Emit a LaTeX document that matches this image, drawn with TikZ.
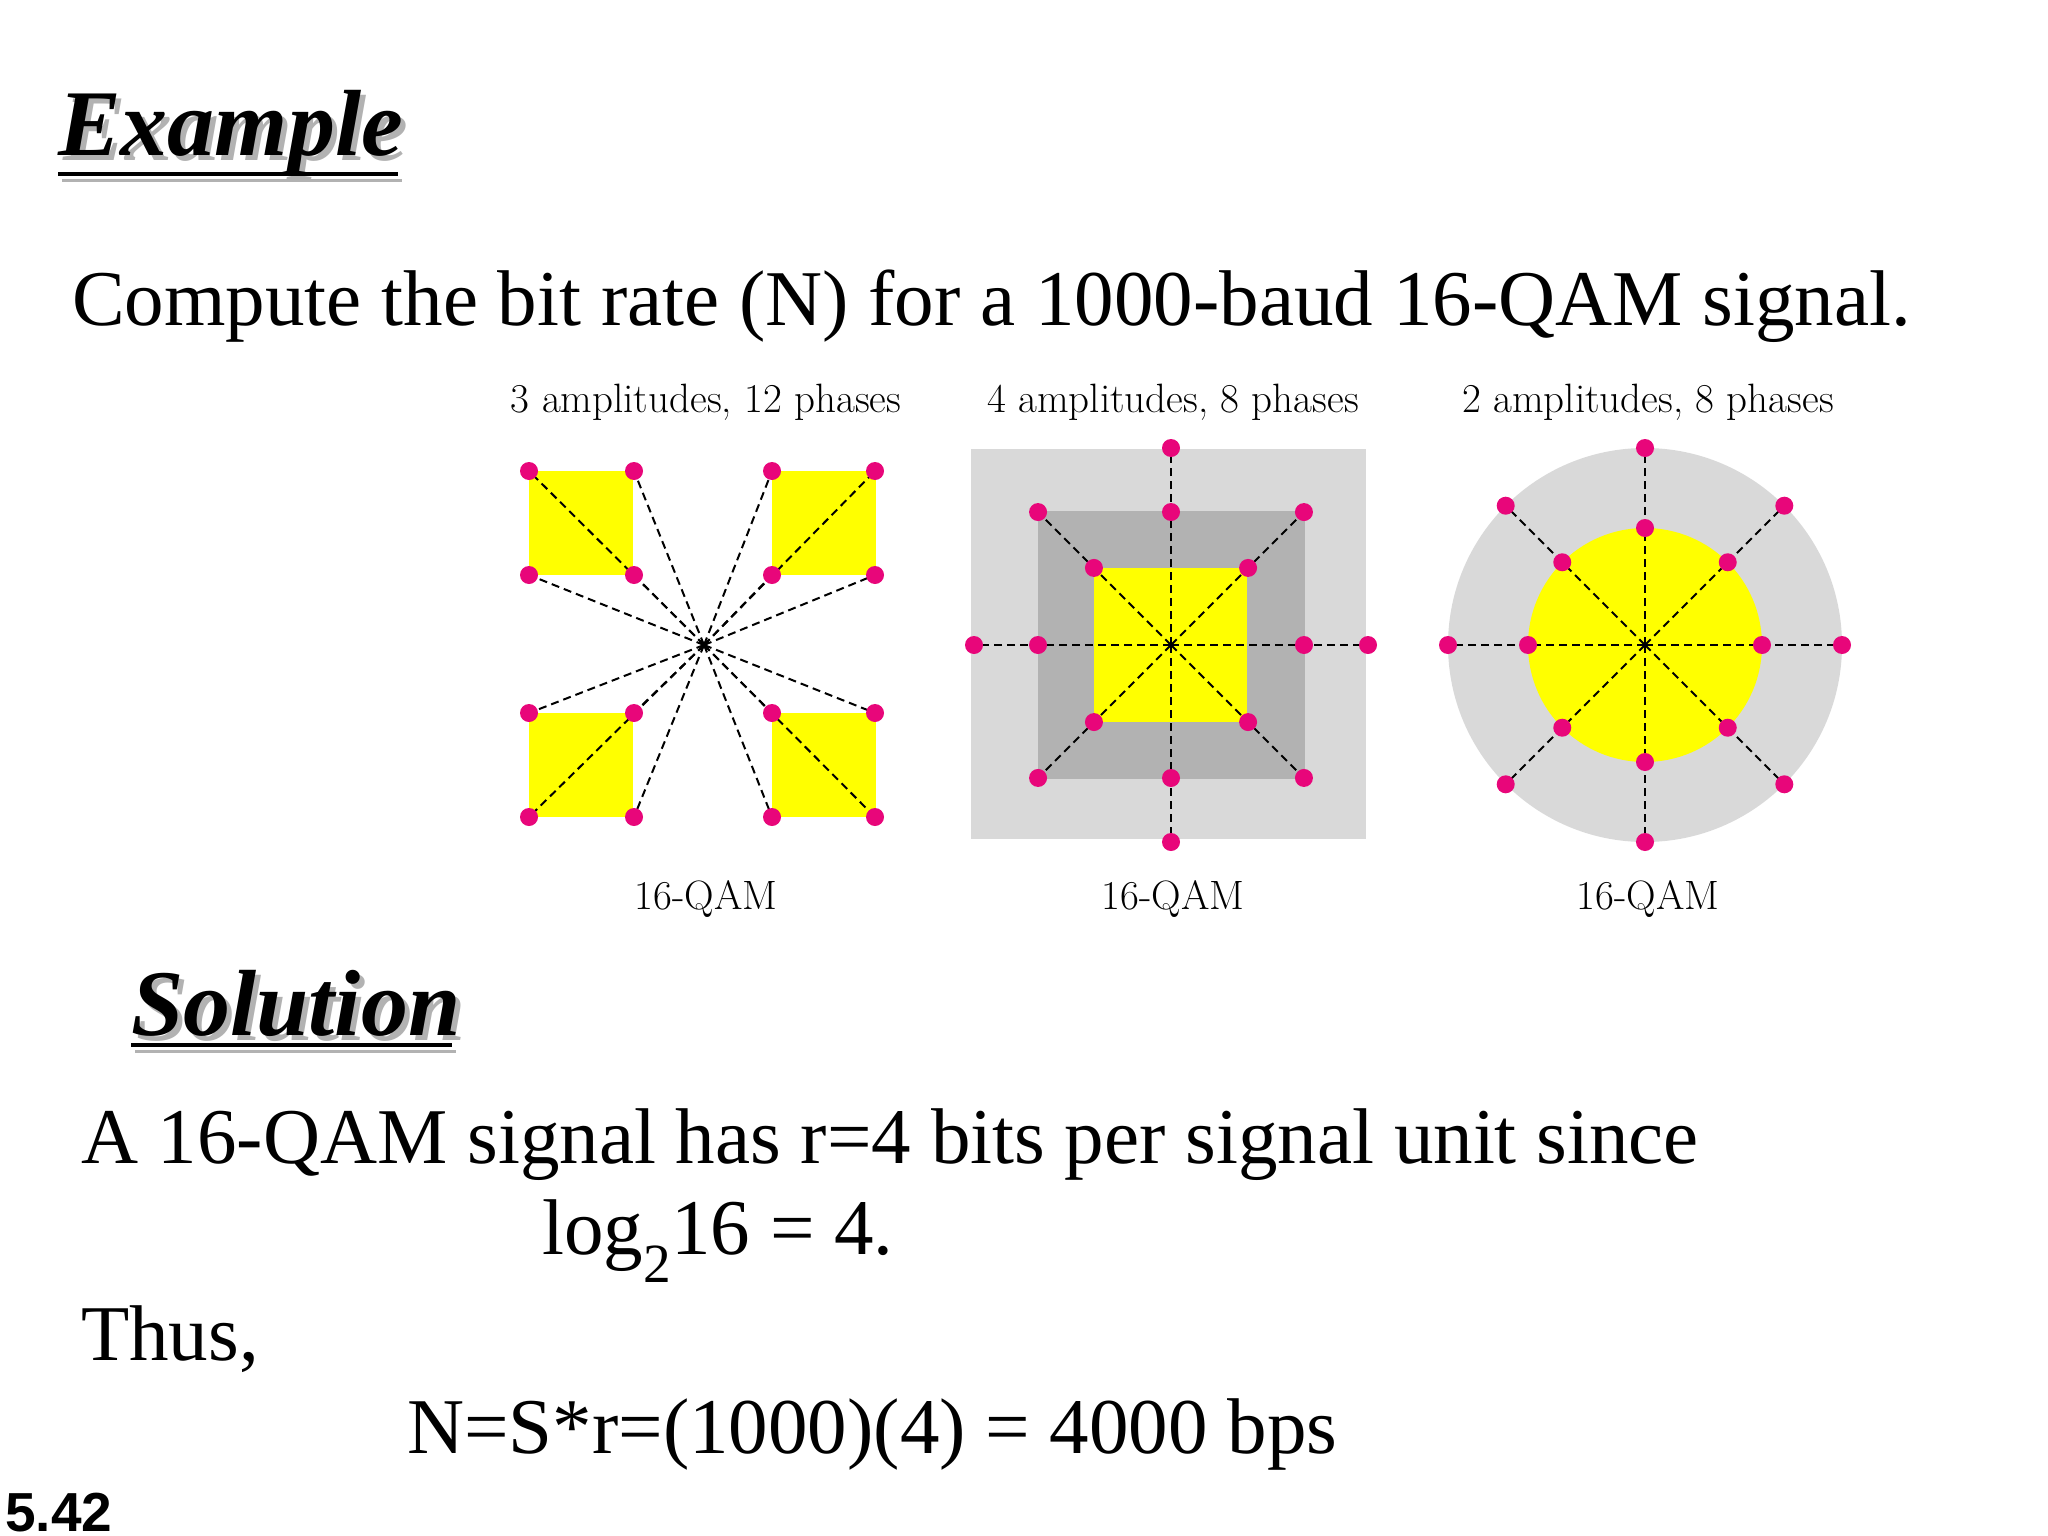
\documentclass[tikz,border=0pt]{standalone}
\usetikzlibrary{calc}
\usepackage{fontspec}
\setmainfont{Liberation Serif}
\newfontfamily\lmfont{Latin Modern Roman}
\newfontfamily\hdfont{Liberation Sans}
\definecolor{dotc}{HTML}{E8067A}
\definecolor{lgray}{HTML}{D9D9D9}
\definecolor{dgray}{HTML}{B2B2B2}
\definecolor{yel}{HTML}{FFFF00}
\tikzset{
  pt/.style={circle,fill=dotc,inner sep=0pt,minimum size=18pt},
  dl/.style={line width=2pt,dash pattern=on 8pt off 5pt},
  big/.style={font=\fontsize{79}{84}\selectfont,anchor=west,inner sep=0pt},
  small/.style={font=\lmfont\fontsize{41}{44}\selectfont,inner sep=0pt},
  head/.style={font=\fontsize{94}{100}\selectfont\bfseries\itshape,anchor=west,inner sep=0pt}
}
\begin{document}
\begin{tikzpicture}[x=1pt,y=-1pt]
\useasboundingbox (0,0) rectangle (2048,1536);
% headings
\node[head,text=gray!60] at (63,138) {Example};
\node[head] (ex) at (58,133) {Example};
\draw[line width=4pt] (58,174) -- (398,174);
\draw[line width=3pt,gray!60] (62,180) -- (402,180);
\node[big] (q) at (72,306) {Compute the bit rate (N) for a 1000-baud 16-QAM signal.};
\node[head,text=gray!60] at (136,1008) {Solution};
\node[head] (so) at (131,1003) {Solution};
\draw[line width=4pt] (131,1045) -- (452,1045);
\draw[line width=3pt,gray!60] (135,1051) -- (456,1051);
\node[big] (s1) at (81,1145) {A 16-QAM signal has r=4 bits per signal unit since};
\node[big] (s2) at (542,1241) {log\textsubscript{2}16 = 4.};
\node[big] (s3) at (81,1339) {Thus,};
\node[big] (s4) at (407,1434) {N=S*r=(1000)(4) = 4000 bps};
\node[font=\hdfont\bfseries\fontsize{55}{57}\selectfont,anchor=west,inner sep=0pt] (pg) at (5,1513) {5.42};
% labels
\node[small] (l1) at (706,402) {3 amplitudes, 12 phases};
\node[small] (l2) at (1173,402) {4 amplitudes, 8 phases};
\node[small] (l3) at (1648,402) {2 amplitudes, 8 phases};
\node[small] (b1) at (706,899) {16-QAM};
\node[small] (b2) at (1173,899) {16-QAM};
\node[small] (b3) at (1648,899) {16-QAM};
% diagram 1
\coordinate (c1) at (704,645);
\foreach \x/\y in {529/471,772/471,529/713,772/713}
  \fill[yel] (\x,\y) rectangle ++(104,104);
\foreach \x in {529,634,772,875} \foreach \y in {471,575,713,817}
  {\draw[dl] (c1) -- (\x,\y); }
\foreach \x in {529,634,772,875} \foreach \y in {471,575,713,817}
  {\node[pt] (d\x\y) at (\x,\y) {};}
% diagram 2
\coordinate (c2) at (1171,645);
\fill[lgray] (971,449) rectangle (1366,839);
\fill[dgray] (1038,511) rectangle (1305,779);
\fill[yel] (1094,568) rectangle (1247,722);
\foreach \a in {0,90,180,270} \draw[dl] (c2) -- ++(\a:197);
\foreach \a in {45,135,225,315} \draw[dl] (c2) -- ++(\a:188);
\foreach \a in {0,90,180,270} {\node[pt] at ($(c2)+(\a:197)$) {}; \node[pt] at ($(c2)+(\a:133)$) {};}
\foreach \a in {45,135,225,315} {\node[pt] at ($(c2)+(\a:188)$) {}; \node[pt] at ($(c2)+(\a:109)$) {};}
% diagram 3
\coordinate (c3) at (1645,645);
\fill[lgray] (c3) circle (197);
\fill[yel] (c3) circle (117);
\foreach \a in {0,45,...,315} \draw[dl] (c3) -- ++(\a:197);
\foreach \a in {0,45,...,315} {\node[pt] at ($(c3)+(\a:197)$) {}; \node[pt] at ($(c3)+(\a:117)$) {};}
\end{tikzpicture}
\end{document}
